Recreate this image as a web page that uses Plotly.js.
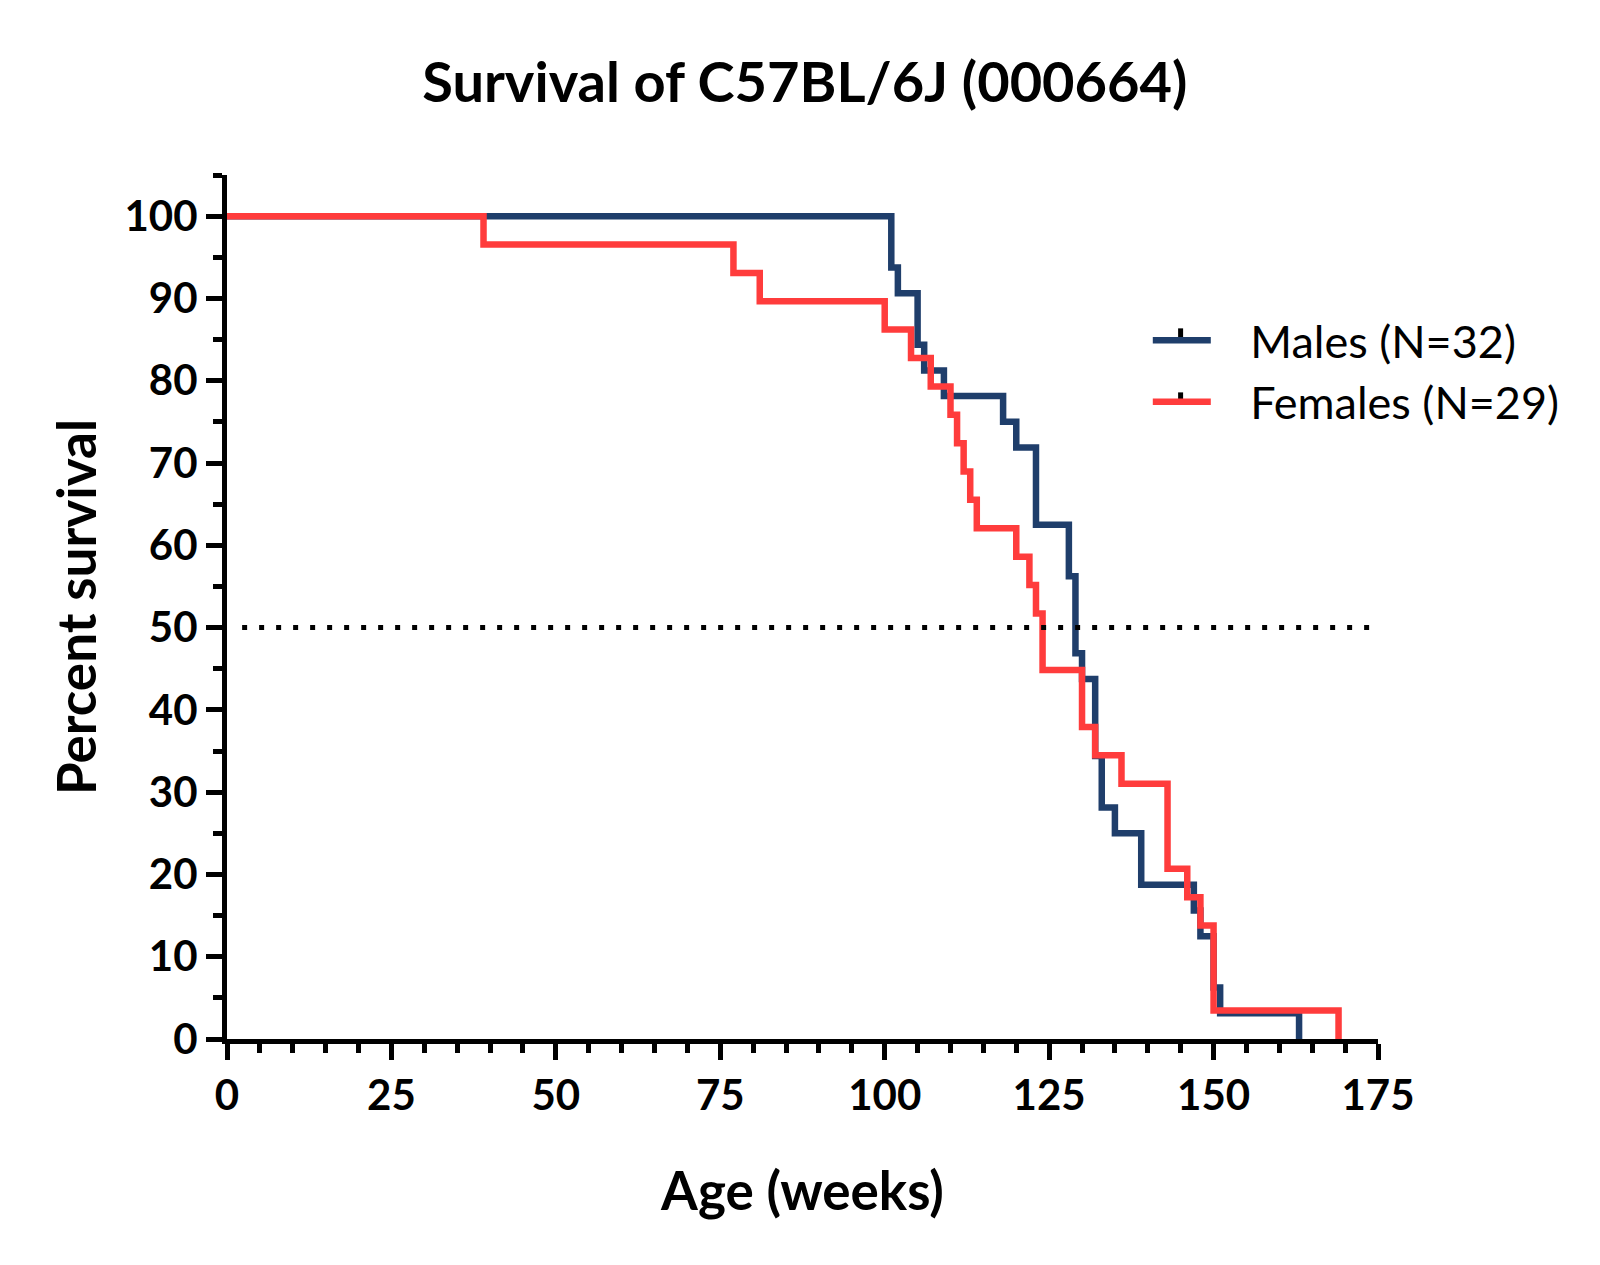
<!DOCTYPE html>
<html>
<head>
<meta charset="utf-8">
<script src="https://cdn.plot.ly/plotly-3.0.1.min.js"></script>
<style>
  body { margin: 0; background: #fff; }
  #chart { width: 1600px; height: 1265px; }
</style>
</head>
<body>
<div id="chart"></div>
<script>
// Kaplan-Meier steps (weeks, percent surviving)
var maleTimes = [0, 101, 102, 105, 106, 109, 118, 120, 123, 128, 129, 130, 132, 133, 135, 139, 147, 148, 150, 151, 163];
var maleSurv = [100, 93.75, 90.63, 84.38, 81.25, 78.13, 75, 71.88, 62.5, 56.25, 46.88, 43.75, 34.38, 28.13, 25, 18.75, 15.63, 12.5, 6.25, 3.13, 0];

var femaleTimes = [0, 39, 77, 81, 100, 104, 107, 110, 111, 112, 113, 114, 120, 122, 123, 124, 130, 132, 136, 143, 146, 148, 150, 169];
var femaleSurv = [100, 96.55, 93.1, 89.66, 86.21, 82.76, 79.31, 75.86, 72.41, 68.97, 65.52, 62.07, 58.62, 55.17, 51.72, 44.83, 37.93, 34.48, 31.03, 20.69, 17.24, 13.79, 3.45, 0];

var seriesNames = ["Males (N=32)", "Females (N=29)"];
var xTicks = [0, 25, 50, 75, 100, 125, 150, 175];
var yTicks = [0, 10, 20, 30, 40, 50, 60, 70, 80, 90, 100];
var medianLine = 50;

var blue = "#1f3e6b";
var red = "#ff3c3c";
var font = "Lato, 'Open Sans', sans-serif";
var pad = "\u00a0\u00a0\u00a0"; // gap between legend line and text

var data = [
  {
    type: "scatter",
    mode: "lines",
    name: pad + seriesNames[0],
    x: maleTimes,
    y: maleSurv,
    line: { shape: "hv", color: blue, width: 6.5 }
  },
  {
    type: "scatter",
    mode: "lines",
    name: pad + seriesNames[1],
    x: femaleTimes,
    y: femaleSurv,
    line: { shape: "hv", color: red, width: 6.5 }
  }
];

var axisCommon = {
  showline: true,
  linecolor: "black",
  linewidth: 5,
  ticks: "outside",
  ticklen: 16,
  tickwidth: 5,
  tickcolor: "black",
  showgrid: false,
  zeroline: false,
  tickfont: { family: font, size: 42, color: "black", weight: "bold" },
  minor: { dtick: 5, ticks: "outside", ticklen: 9, tickwidth: 5, tickcolor: "black", showgrid: false }
};

// small black censor ticks drawn on the legend lines
var legendTick = function (y0, y1) {
  return {
    type: "line", xref: "paper", yref: "paper",
    x0: 0.8285, x1: 0.8285, y0: y0, y1: y1,
    line: { color: "black", width: 5 }
  };
};

var layout = {
  width: 1600, height: 1265,
  margin: { l: 227, r: 222, t: 175, b: 226 },
  paper_bgcolor: "white",
  plot_bgcolor: "white",
  title: {
    text: "Survival of C57BL/6J (000664)",
    font: { family: font, size: 56, color: "black", weight: "bold" },
    x: 0.503, xanchor: "center",
    y: 0.935, yanchor: "middle"
  },
  xaxis: Object.assign({}, axisCommon, {
    range: [0, 175],
    tickvals: xTicks,
    title: { text: "Age (weeks)", font: { family: font, size: 53, color: "black", weight: "bold" }, standoff: 56 }
  }),
  yaxis: Object.assign({}, axisCommon, {
    range: [0, 105],
    tickvals: yTicks,
    title: { text: "Percent survival", font: { family: font, size: 53, color: "black", weight: "bold" }, standoff: 12 }
  }),
  legend: {
    x: 0.8, y: 0.85, xanchor: "left", yanchor: "top",
    font: { family: font, size: 45, color: "black" },
    itemwidth: 58,
    bgcolor: "rgba(0,0,0,0)"
  },
  shapes: [
    {
      type: "line", xref: "x", yref: "y",
      x0: 2.3, x1: 175, y0: medianLine, y1: medianLine,
      line: { color: "black", width: 5, dash: "5px,12px" }
    },
    legendTick(0.8086, 0.8225),
    legendTick(0.7357, 0.7484)
  ]
};

Plotly.newPlot("chart", data, layout, { displayModeBar: false, staticPlot: true });
</script>
</body>
</html>
